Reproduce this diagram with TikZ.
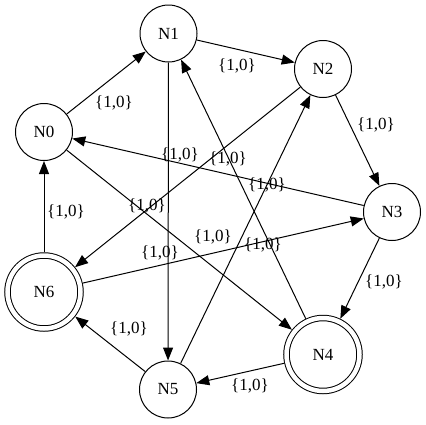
\documentclass[tikz,border=0pt]{standalone}
\usepackage{fontspec}
\setmainfont{Liberation Serif}
\usetikzlibrary{arrows.meta}
\begin{document}
\begin{tikzpicture}[x=1pt,y=-1pt,
  every node/.style={font=\fontsize{17}{19}\selectfont},
  state/.style={circle,draw,line width=1pt,minimum size=57pt,inner sep=0pt},
  final/.style={circle,draw,line width=1pt,double,double distance=4.5pt,minimum size=73pt,inner sep=0pt,outer sep=3.25pt},
  edge/.style={draw,line width=1pt,-{Triangle[length=13pt,width=10pt]}},
  lbl/.style={inner sep=0pt}]
\useasboundingbox (0,0) rectangle (426,424);
\fill[white] (0,0) rectangle (426,424);
\node[state] (n0) at (44,132) {N0};
\node[state] (n1) at (168.5,33.5) {N1};
\node[state] (n2) at (323,69) {N2};
\node[state] (n3) at (392,212) {N3};
\node[final] (n4) at (323,354.5) {N4};
\node[state] (n5) at (168,389.5) {N5};
\node[final] (n6) at (44,292) {N6};
\draw[edge] (n0) -- (n1) node[lbl] (l01) at (114,103) {\{1,0\}};
\draw[edge] (n1) -- (n2) node[lbl] (l12) at (237,66) {\{1,0\}};
\draw[edge] (n2) -- (n3) node[lbl] (l23) at (376,125) {\{1,0\}};
\draw[edge] (n3) -- (n4) node[lbl] (l34) at (384,282) {\{1,0\}};
\draw[edge] (n4) -- (n5) node[lbl] (l45) at (250,386) {\{1,0\}};
\draw[edge] (n5) -- (n6) node[lbl] (l56) at (129,329) {\{1,0\}};
\draw[edge] (n6) -- (n0) node[lbl] (l60) at (66,212) {\{1,0\}};
\draw[edge] (n3) -- (n0) node[lbl] (l30) at (228,159) {\{1,0\}};
\draw[edge] (n2) -- (n6) node[lbl] (l26) at (180,155) {\{1,0\}};
\draw[edge] (n4) -- (n1) node[lbl] (l41) at (267,185) {\{1,0\}};
\draw[edge] (n5) -- (n2) node[lbl] (l52) at (263,245) {\{1,0\}};
\draw[edge] (n1) -- (n5) node[lbl] (l15) at (147,206) {\{1,0\}};
\draw[edge] (n0) -- (n4) node[lbl] (l04) at (160,253) {\{1,0\}};
\draw[edge] (n6) -- (n3) node[lbl] (l63) at (213,237) {\{1,0\}};
\end{tikzpicture}
\end{document}
